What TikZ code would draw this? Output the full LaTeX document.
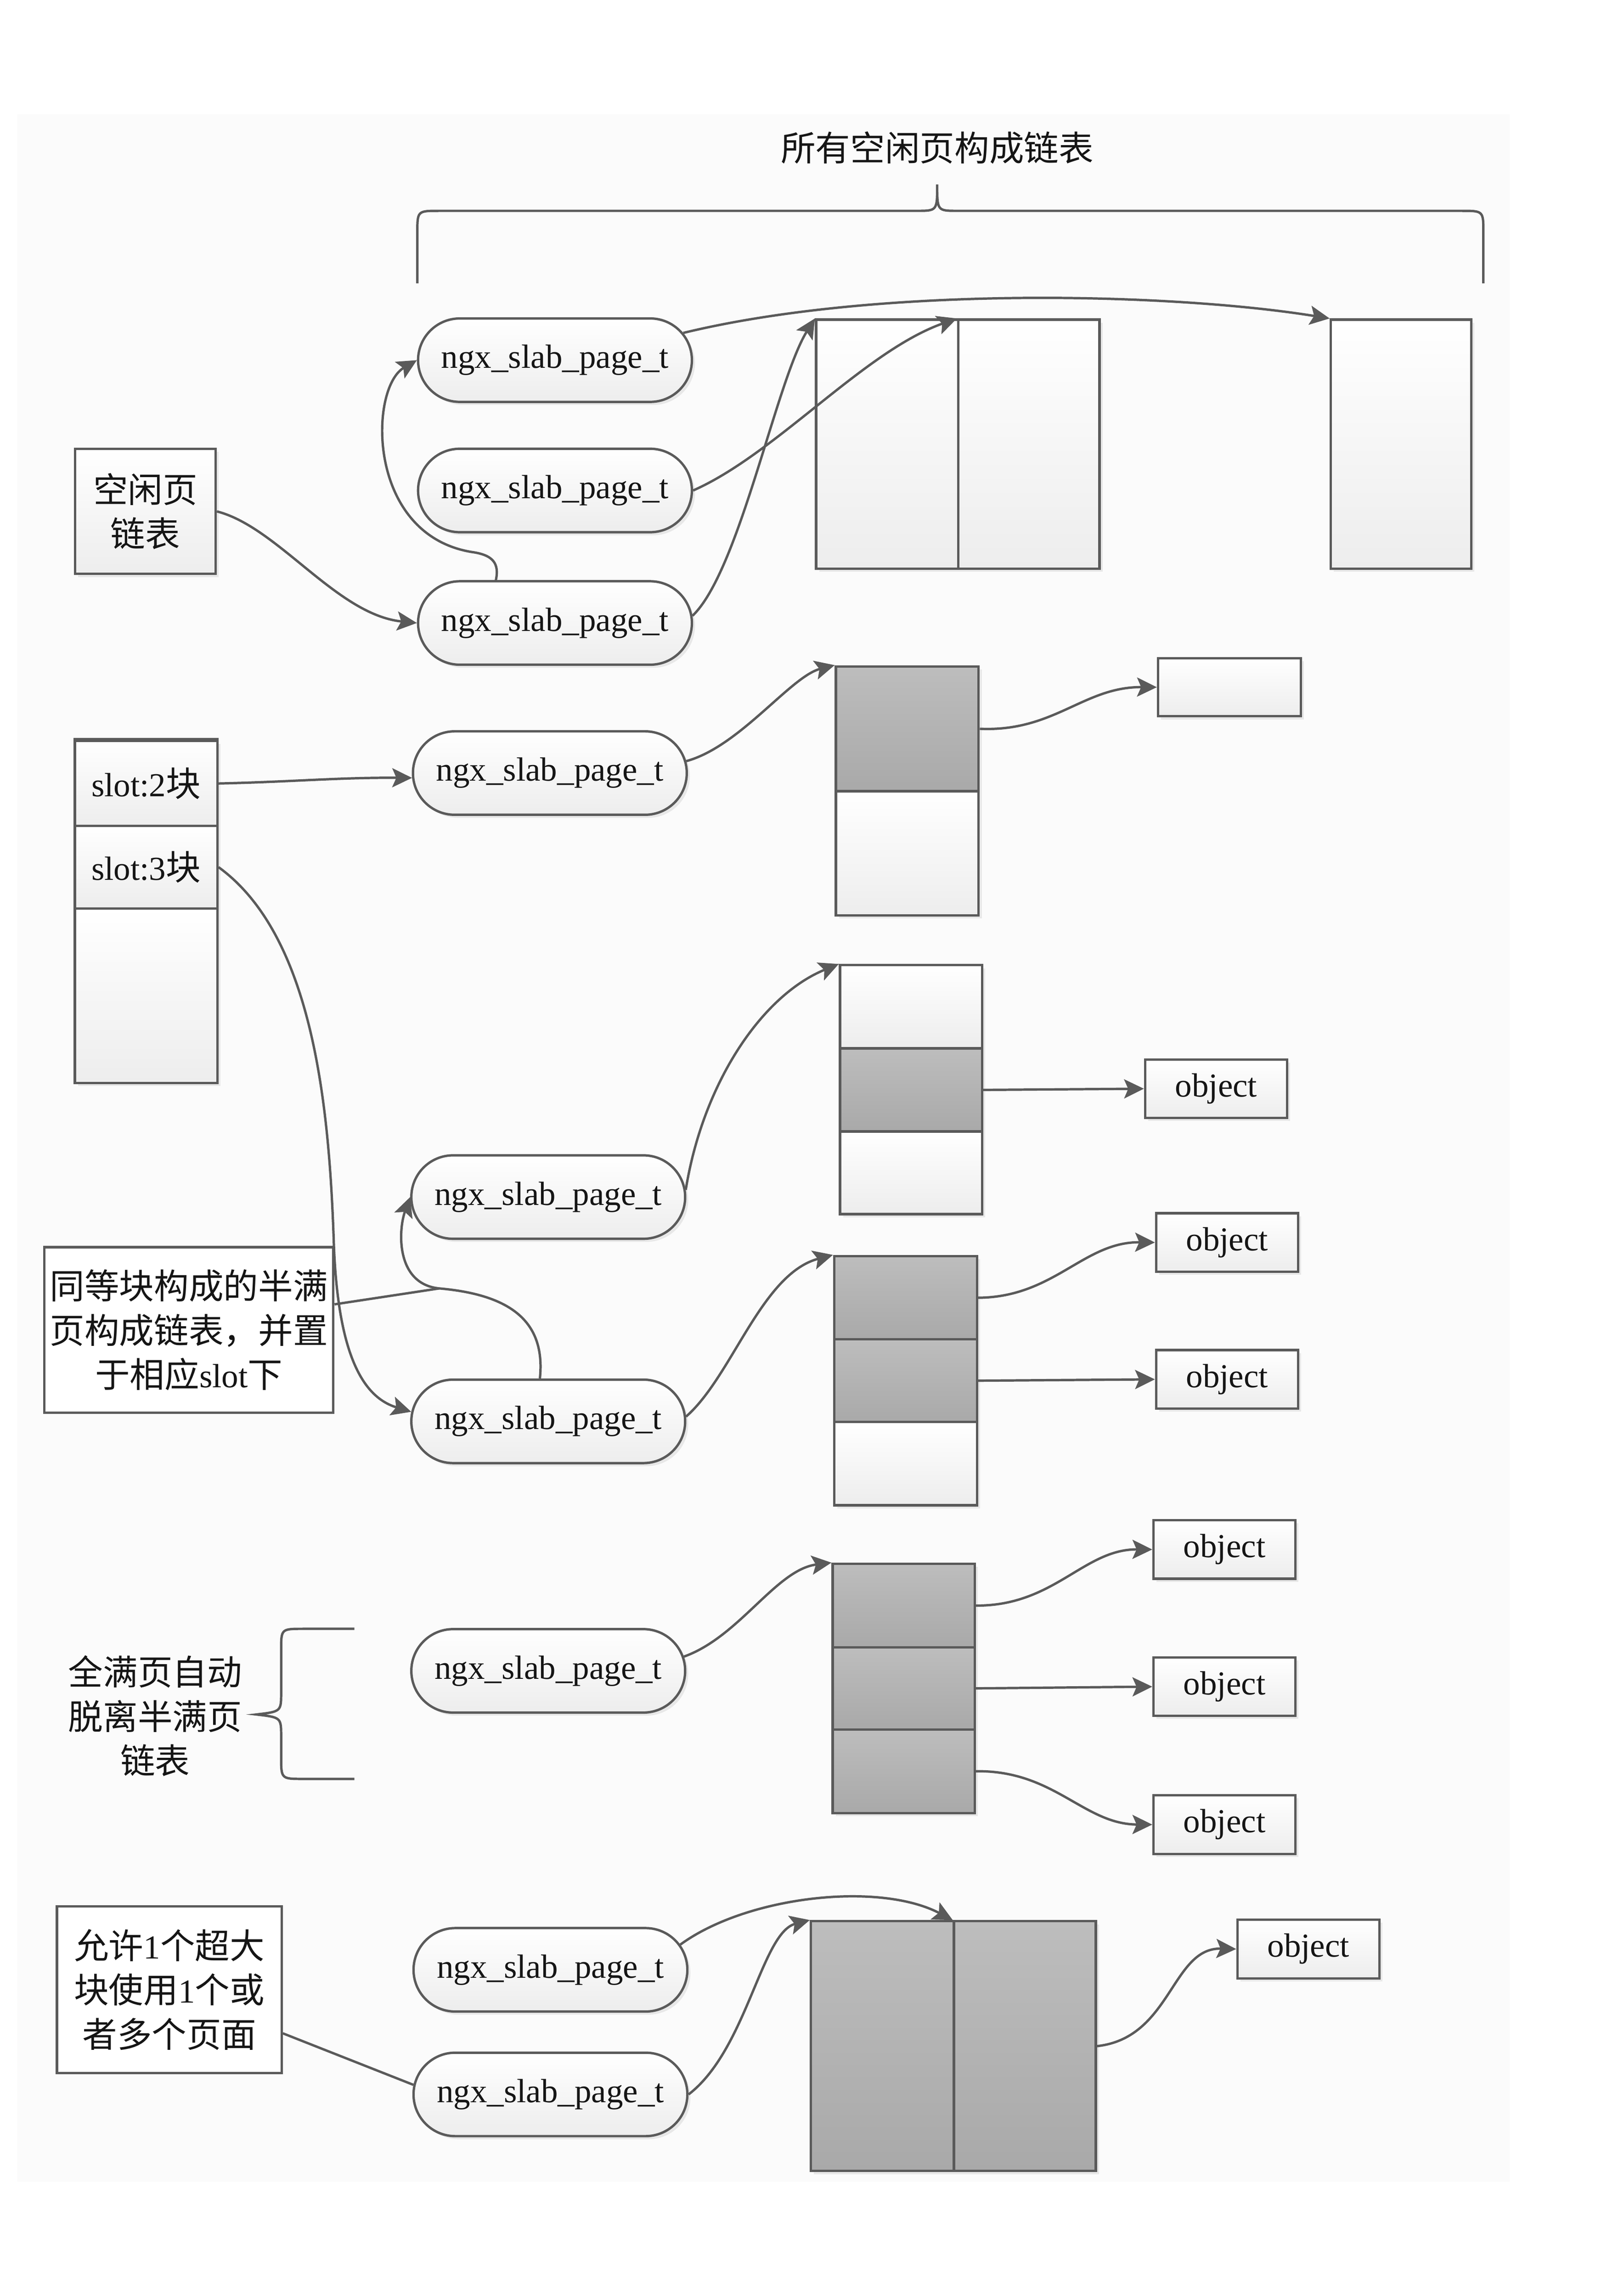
\documentclass[tikz,border=0pt]{standalone}
\usepackage{fontspec}
\setmainfont{Liberation Serif}
\newfontfamily\cjk{Noto Sans CJK SC}
\usetikzlibrary{arrows.meta,shapes.misc,shadows}
\definecolor{lc}{HTML}{5A5A5A}
\definecolor{bgc}{HTML}{FBFBFB}
\definecolor{ltop}{HTML}{FFFFFF}
\definecolor{lbot}{HTML}{EDEDED}
\definecolor{dtop}{HTML}{BDBDBD}
\definecolor{dbot}{HTML}{A9A9A9}
\definecolor{txt}{HTML}{151515}
\newdimen\upx \upx=0.042947cm
\newcommand\lat{\fontsize{28}{37}\selectfont\rmfamily}
\newcommand\cjt{\fontsize{29}{37}\selectfont\cjk}
\begin{document}
\begin{tikzpicture}[x=0.042947cm,y=-0.042947cm,
  ln/.style={draw=lc,line width=2pt},
  arr/.style={ln,-{Stealth[length=0.58cm,width=0.56cm,inset=0.12cm]}},
  shd/.style={drop shadow={shadow xshift=0.09cm,shadow yshift=-0.09cm,opacity=0.12,fill=black!60}},
  pgt/.style={rounded rectangle,draw=lc,line width=2pt,minimum width=187*\upx,minimum height=57*\upx,top color=ltop,bottom color=lbot,shd,inner sep=0pt,font=\lat,text=txt},
  cl/.style={rectangle,draw=lc,line width=2pt,top color=ltop,bottom color=lbot,inner sep=0pt,anchor=north west,shd,text=txt},
  cd/.style={cl,top color=dtop,bottom color=dbot},
  obj/.style={rectangle,draw=lc,line width=2pt,top color=ltop,bottom color=lbot,shd,minimum width=97*\upx,minimum height=40*\upx,inner sep=0pt,font=\lat,text=txt},
  lbl/.style={rectangle,draw=lc,line width=2pt,fill=white,inner sep=0pt,align=center,font=\cjt,text=txt},
  sz/.style 2 args={minimum width=#1*\upx,minimum height=#2*\upx}
]
\useasboundingbox (0,0) rectangle (1108.8,1568.2);
\fill[bgc] (12,78) rectangle (1031,1490);

% title and brace
\node[font=\cjt,text=txt] (title) at (640,101) {所有空闲页构成链表};
\draw[ln] (285,193.5) -- (285,159) .. controls (285,144) .. (300,144) -- (626,144)
  .. controls (640,144) .. (640,126) .. controls (640,144) .. (654,144) -- (998,144)
  .. controls (1013,144) .. (1013,159) -- (1013,193.5);

% section 1
\node[pgt] (a1) at (379,246) {ngx\_slab\_page\_t};
\node[pgt] (a2) at (379,335) {ngx\_slab\_page\_t};
\node[pgt] (a3) at (379,425.5) {ngx\_slab\_page\_t};
\node[cl,anchor=center,sz={96}{85.4},align=center,font=\cjt] (fl) at (99.3,349.3) {空闲页\\链表};
\node[cl,sz={97}{170}] (p1a) at (556.5,217.5) {};
\node[cl,sz={96.5}{170}] (p1b) at (653.5,217.5) {};
\node[cl,sz={96}{170}] (p2) at (908,217.5) {};

\draw[arr] (a1.12) .. controls (600,195) and (800,200) .. (p2.north west);
\draw[arr] (a2.east) .. controls (530,310) and (590,240) .. (p1b.north west);
\draw[arr] (a3.3) .. controls (505,390) and (530,260) .. (p1a.north west);
\draw[arr] (fl.east) .. controls (190,360) and (230,420) .. (a3.west);
\draw[arr] (a3.144) .. controls (341,385) and (337,379) .. (322,377) .. controls (250,365) and (252,265) .. (a1.west);

% section 2
\node[cl,sz={97.3}{58},font=\lat] (sl2) at (50.3,505.3) {slot:2{\cjt 块}};
\node[cl,sz={97.3}{56.3},font=\lat] (sl3) at (50.3,563.3) {slot:3{\cjt 块}};
\node[cl,sz={97.3}{119.2}] (slr) at (50.3,619.6) {};
\draw[lc,line width=3.5pt] (sl2.north west) -- (sl2.north east);
\node[pgt] (b1) at (375.5,528) {ngx\_slab\_page\_t};
\node[cd,sz={97.5}{85.3}] (p3a) at (570,454.3) {};
\node[cl,sz={97.5}{84.7}] (p3b) at (570,539.6) {};
\node[cl,sz={97.5}{39.7}] (s1) at (790,448.7) {};
\draw[arr] (sl2.east) .. controls (200,534) and (230,531) .. (b1.182);
\draw[arr] (b1.5) .. controls (505,510) and (540,462) .. (p3a.north west);
\draw[arr] (p3a.east) .. controls (720,500) and (740,469) .. (s1.west);

% section 3
\node[pgt] (c1) at (374.4,817.6) {ngx\_slab\_page\_t};
\node[pgt] (c2) at (374.4,970.8) {ngx\_slab\_page\_t};
\node[cl,sz={97}{56.8}] (ca) at (572.8,658.4) {};
\node[cd,sz={97}{56.8}] (cb) at (572.8,715.2) {};
\node[cl,sz={97}{56.4}] (cc) at (572.8,772) {};
\node[obj] (o1) at (830.5,743.6) {object};
\node[cd,sz={97.6}{56.9}] (da) at (568.8,857.1) {};
\node[cd,sz={97.6}{56.4}] (db) at (568.8,914) {};
\node[cl,sz={97.6}{56.9}] (dc) at (568.8,970.4) {};
\node[obj] (o2) at (838,848.6) {object};
\node[obj] (o3) at (838,942.1) {object};
\node[lbl,sz={197.3}{113.2}] (l1) at (129,908.4) {同等块构成的半满\\页构成链表，并置\\于相应{\lat slot}下};
\coordinate (j1) at (300,880);

\draw[arr] (c1.3) .. controls (480,740) and (520,680) .. (ca.north west);
\draw[arr] (cb.east) -- (o1.west);
\draw[arr] (c2.2) .. controls (500,940) and (520,870) .. (da.north west);
\draw[arr] (da.east) .. controls (720,886) and (740,848) .. (o2.west);
\draw[arr] (db.east) -- (o3.west);
\draw[arr] (sl3.east) .. controls (215,640) and (225,760) .. (228,850) .. controls (231,930) and (250,955) .. (c2.176);
\draw[arr] (c2.101) .. controls (373,900) and (345,884) .. (j1) .. controls (270,877) and (272,840) .. (c1.west);
\draw[ln] (l1.10) -- (j1);

% section 4
\node[font=\cjt,text=txt,align=center] (full) at (106,1172) {全满页自动\\脱离半满页\\链表};
\draw[ln] (242,1112.5) -- (207,1112.5) .. controls (192,1112.5) .. (192,1127) -- (192,1156)
  .. controls (192,1169) .. (175,1171) .. controls (192,1173) .. (192,1186) -- (192,1200)
  .. controls (192,1215) .. (207,1215) -- (242,1215);
\node[pgt] (e1) at (374.4,1141.2) {ngx\_slab\_page\_t};
\node[cd,sz={97}{57}] (fa) at (567.8,1067.3) {};
\node[cd,sz={97}{56.1}] (fb) at (567.8,1124.3) {};
\node[cd,sz={97}{57.1}] (fc) at (567.8,1180.4) {};
\node[obj] (o4) at (836.2,1058.3) {object};
\node[obj] (o5) at (836.2,1152) {object};
\node[obj] (o6) at (836.2,1246.2) {object};
\draw[arr] (e1.6) .. controls (505,1118) and (530,1072) .. (fa.north west);
\draw[arr] (fa.east) .. controls (720,1097) and (740,1058) .. (o4.west);
\draw[arr] (fb.east) -- (o5.west);
\draw[arr] (fc.east) .. controls (720,1209) and (740,1246) .. (o6.west);

% section 5
\node[lbl,sz={153.4}{113.9}] (l2) at (115.6,1359) {允许{\lat 1}个超大\\块使用{\lat 1}个或\\者多个页面};
\node[pgt] (g1) at (375.9,1345.4) {ngx\_slab\_page\_t};
\node[pgt] (g2) at (375.9,1430.5) {ngx\_slab\_page\_t};
\node[cd,sz={97.6}{170.6}] (ha) at (553,1311.4) {};
\node[cd,sz={96.9}{170.6}] (hb) at (650.6,1311.4) {};
\node[obj] (o7) at (893.5,1331.2) {object};
\draw[arr] (g1.11) .. controls (510,1295) and (600,1285) .. (hb.north west);
\draw[arr] (g2.east) .. controls (510,1400) and (520,1320) .. (ha.north west);
\draw[arr] (hb.east) .. controls (800,1392) and (800,1330) .. (o7.west);
\draw[ln] (l2.-21) -- (g2.176);
\end{tikzpicture}
\end{document}
